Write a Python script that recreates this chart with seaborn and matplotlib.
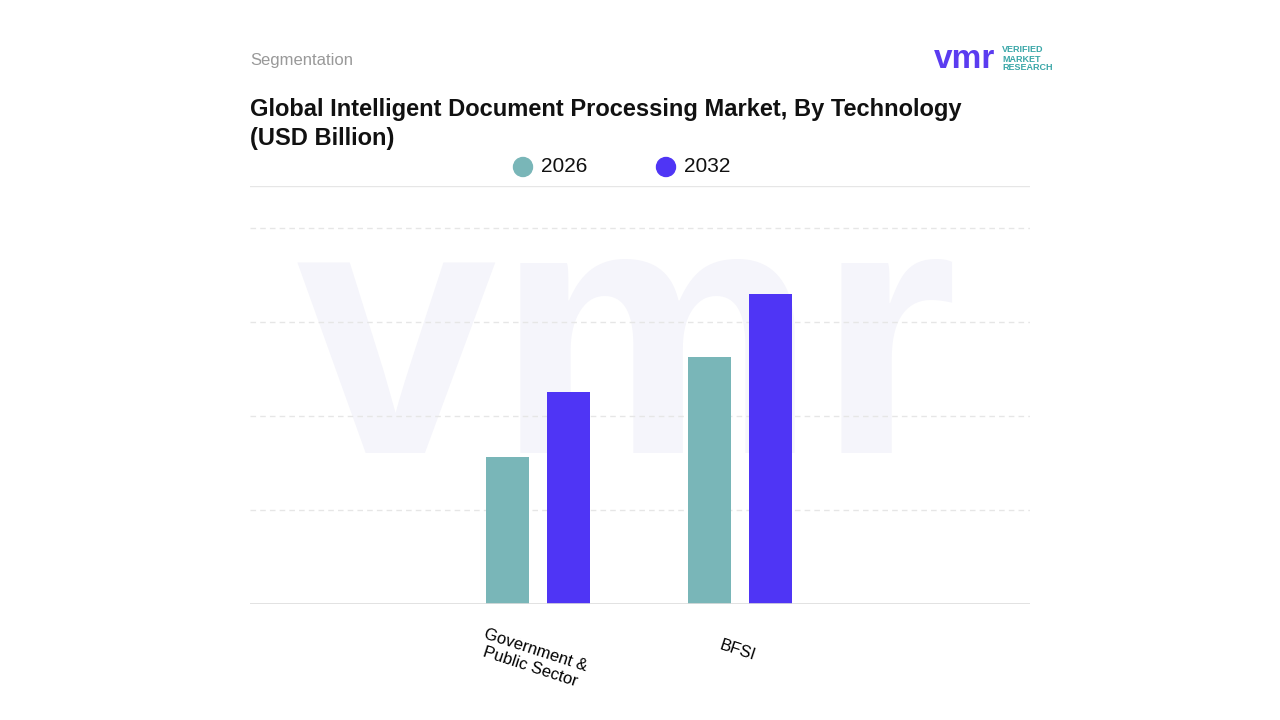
import matplotlib
matplotlib.use("Agg")
import matplotlib.pyplot as plt
from matplotlib.patches import Ellipse
import seaborn as sns
import pandas as pd

plt.rcParams["font.family"] = "Liberation Sans"

# data (arbitrary units, no axis values shown)
categories = ["Government &\nPublic Sector", "BFSI"]
years = ["2026", "2032"]
values_2026 = [1.56, 2.63]
values_2032 = [2.26, 3.30]
colors = ["#79B6B8", "#4F35F5"]

df = pd.DataFrame({
    "Segment": categories * 2,
    "Year": [years[0]] * 2 + [years[1]] * 2,
    "Value": values_2026 + values_2032,
})

fig = plt.figure(figsize=(12.8, 7.2), dpi=100)

# watermark behind everything
fig.text(0.49, 0.5, "vmr", fontsize=260, color="#F5F5FB", ha="center",
         va="center", weight="bold", zorder=-5)

ax = fig.add_axes([250 / 1280, 1 - 604 / 720, 780 / 1280, 418 / 720])
ax.patch.set_alpha(0)

sns.barplot(data=df, x="Segment", y="Value", hue="Year", palette=colors,
            saturation=1, width=0.6, gap=0.29, ax=ax, legend=False, zorder=3)

ax.set_xlim(-1.42, 2.43)
ax.set_ylim(0, 4.45)
for y in [1, 2, 3, 4]:
    ax.axhline(y, color="#E6E6E6", lw=1, ls=(0, (4, 3)), zorder=1)
ax.axhline(4.45, color="#E6E6E6", lw=1, zorder=1)
ax.axhline(0, color="#DDDDDD", lw=1.2, zorder=4)
for s in ax.spines.values():
    s.set_visible(False)
ax.set_yticks([])
ax.set_xlabel("")
ax.set_ylabel("")
ax.tick_params(axis="x", length=0, pad=28)
for lbl in ax.get_xticklabels():
    lbl.set_rotation(-18)
    lbl.set_fontsize(12)
    lbl.set_ha("center")
    lbl.set_rotation_mode("anchor")

# header texts
fig.text(250 / 1280, 1 - 60 / 720, "Segmentation", fontsize=12, color="#999999", va="center")
fig.text(250 / 1280, 1 - 124 / 720,
         "Global Intelligent Document Processing Market, By Technology\n(USD Billion)",
         fontsize=17, weight="bold", color="#111111", va="center", linespacing=1.3)
fig.text(934 / 1280, 1 - 60 / 720, "vmr", fontsize=24, weight="bold", color="#5B3CF0", va="center")
fig.text(1002 / 1280, 1 - 59 / 720, "VERIFIED\nMARKET\nRESEARCH", fontsize=6.5,
         color="#3AA7A8", va="center", linespacing=1.0, weight="bold")

# legend
for x, yr, c in [(523, years[0], colors[0]), (666, years[1], colors[1])]:
    fig.add_artist(Ellipse((x / 1280, 1 - 167 / 720), 19 / 1280, 19 / 720,
                           color=c, transform=fig.transFigure))
    fig.text((x + 18) / 1280, 1 - 167 / 720, yr, fontsize=15, va="center", color="#111111")

fig.savefig("out.png", dpi=100)
